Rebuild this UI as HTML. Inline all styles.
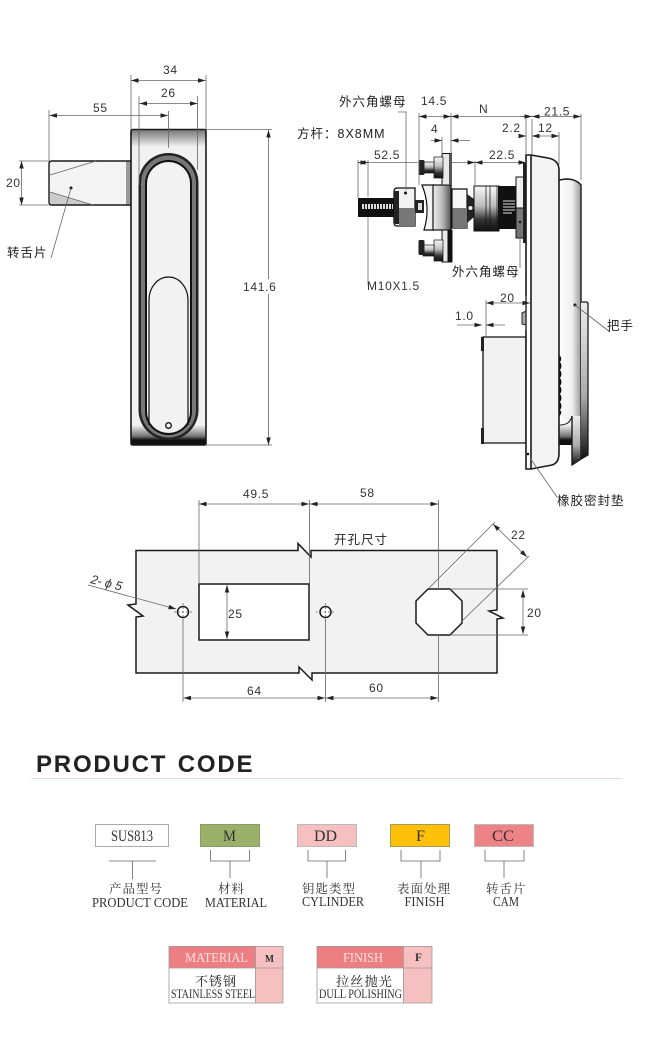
<!DOCTYPE html>
<html><head><meta charset="utf-8"><style>
html,body{margin:0;padding:0;background:#fff;width:650px;height:1060px;overflow:hidden}
svg{display:block}
.d{font-family:"Liberation Sans","Noto Sans CJK SC",sans-serif;font-size:12px;fill:#333;letter-spacing:.7px}
.c{font-family:"Liberation Sans","Noto Sans CJK SC",sans-serif;font-size:12.5px;fill:#222;letter-spacing:1px}
.l{stroke:#666;stroke-width:.8;fill:none}
.k{stroke:#1a1a1a;fill:none}
.s{font-family:"Liberation Serif","Noto Serif CJK SC",serif;fill:#333}
</style></head><body>
<svg width="650" height="1060" viewBox="0 0 650 1060" xmlns="http://www.w3.org/2000/svg">
<defs>
<marker id="a" viewBox="0 0 10 6" refX="10" refY="3" markerWidth="9" markerHeight="4.500" markerUnits="userSpaceOnUse" orient="auto-start-reverse"><path d="M0 0L10 3L0 6z" fill="#222"/></marker>
<linearGradient id="v" x1="0" y1="0" x2="0" y2="1"><stop offset="0" stop-color="#f8f8f8"/><stop offset=".45" stop-color="#bbb"/><stop offset=".75" stop-color="#333"/><stop offset="1" stop-color="#111"/></linearGradient>
<linearGradient id="hd" x1="0" y1="0" x2="1" y2="0"><stop offset="0" stop-color="#fff"/><stop offset=".6" stop-color="#eee"/><stop offset="1" stop-color="#999"/></linearGradient>
<linearGradient id="top" x1="0" y1="0" x2="0" y2="1"><stop offset="0" stop-color="#777"/><stop offset=".45" stop-color="#aaa"/><stop offset="1" stop-color="#f0f0f0"/></linearGradient>
<linearGradient id="bot" x1="0" y1="0" x2="0" y2="1"><stop offset="0" stop-color="#f2f2f2"/><stop offset=".55" stop-color="#777"/><stop offset=".75" stop-color="#111"/><stop offset="1" stop-color="#111"/></linearGradient>
<linearGradient id="low" x1="0" y1="0" x2="0" y2="1"><stop offset="0" stop-color="#eee"/><stop offset=".6" stop-color="#aaa"/><stop offset="1" stop-color="#111"/></linearGradient>
<linearGradient id="blk" x1="0" y1="0" x2="1" y2="0"><stop offset="0" stop-color="#eee"/><stop offset=".5" stop-color="#bbb"/><stop offset="1" stop-color="#555"/></linearGradient>
</defs>

<!-- LEFT VIEW -->
<path d="M49 161H128V205H52Q49 205 49 202Z" fill="#f3f3f3"/>
<path d="M50 192L93 205H52Q50 205 50 202Z" fill="#ccc"/>
<rect x="126" y="161" width="5" height="44" fill="#999"/>
<path d="M131 161H52Q49 161 49 164V202Q49 205 52 205H131" class="k" stroke-width="1.400"/>
<path d="M50 175L96 161M50 192L93 205" class="l"/>
<rect x="131" y="129.500" width="75" height="315.500" fill="#f1f1f1"/>
<rect x="131" y="129.500" width="75" height="17" fill="url(#top)"/>
<rect x="131" y="425" width="75" height="20" fill="url(#bot)"/>
<rect x="131" y="129.500" width="75" height="315.500" rx="1.500" class="k" stroke-width="1.600"/>
<rect x="138.500" y="153" width="60" height="287" rx="30" fill="#222"/>
<rect x="141" y="155.500" width="55" height="282" rx="27.500" fill="#777"/>
<rect x="145" y="160" width="47" height="275" rx="23.500" fill="#111"/>
<rect x="147" y="162" width="43" height="271" rx="21.500" fill="#f2f2f2"/>
<path d="M149 425V300A19.500 23 0 0 1 188 300V425" fill="none" stroke="#111" stroke-width="1.200"/>
<circle cx="168.500" cy="425.500" r="2.800" fill="#fff" stroke="#111" stroke-width="1.300"/>

<path class="l" d="M49 110V161M131 75V129M206 75V129M139 96V185M197.500 96V170M168.500 111V148M206 129.500H272M206 445H272M19 161H49M19 205H49"/>
<path class="l" marker-start="url(#a)" marker-end="url(#a)" d="M131 80.500H205.500"/>
<path class="l" marker-start="url(#a)" marker-end="url(#a)" d="M139.500 103.500H197.500"/>
<path class="l" marker-start="url(#a)" marker-end="url(#a)" d="M49.500 115.500H168"/>
<path class="l" marker-start="url(#a)" marker-end="url(#a)" d="M21.500 161V205"/>
<path class="l" marker-start="url(#a)" marker-end="url(#a)" d="M268.500 130V445"/>
<rect x="242" y="279" width="36" height="15" fill="#fff"/>
<text class="d" x="243" y="291">141.6</text>
<text class="d" x="163" y="74">34</text><text class="d" x="161" y="97">26</text><text class="d" x="93" y="112">55</text><text class="d" x="6" y="187">20</text>
<text class="c" x="7" y="257">转舌片</text>
<circle cx="71" cy="188" r="1.500" fill="#111"/><path class="l" d="M71 188L51 258"/>

<!-- RIGHT VIEW -->
<rect x="358" y="198" width="36" height="19" fill="#111"/>
<path d="M362 206.500H393" stroke="#ddd" stroke-width="5" stroke-dasharray="2 1"/>
<path d="M394 192Q394 188 397 188H415V226H397Q394 226 394 222Z" fill="#f2f2f2" stroke="#111" stroke-width="1.300"/>
<path d="M399 208H415V226H399Z" fill="#777"/><path d="M394 191H399V224H394Z" fill="#222"/>
<circle cx="405.500" cy="193" r="1.500" fill="#111"/>
<rect x="415" y="200" width="9" height="13" fill="#222"/><rect x="418" y="203" width="4" height="7" fill="#ddd"/>
<path d="M422 185H434V230H424Q431 207 422 185Z" fill="#f2f2f2" stroke="#111" stroke-width="1.200"/>
<rect x="433" y="185" width="18" height="45" fill="url(#blk)" stroke="#111" stroke-width="1.200"/>
<path d="M442 153.500H451.500V185H442Z" fill="#e8e8e8" stroke="#111" stroke-width="1"/>
<rect x="449" y="154" width="3" height="31" fill="#555"/>
<path d="M442 230H451.500V262H442Z" fill="#e8e8e8" stroke="#111" stroke-width="1"/>
<rect x="447.500" y="230" width="5" height="32" fill="#111"/>
<rect x="434" y="157" width="9" height="21" fill="url(#v)" stroke="#111" stroke-width=".7"/>
<rect x="423" y="162" width="11" height="11" fill="url(#v)" stroke="#111" stroke-width=".7"/>
<rect x="418.500" y="160" width="6" height="15" rx="1.500" fill="#222"/>
<rect x="434" y="240" width="9" height="21" fill="url(#v)" stroke="#111" stroke-width=".7"/>
<rect x="423" y="245" width="11" height="11" fill="url(#v)" stroke="#111" stroke-width=".7"/>
<rect x="418.500" y="240" width="6" height="15" rx="1.500" fill="#222"/>
<path d="M452 189H467V228H452Z" fill="#f6f6f6" stroke="#111" stroke-width="1.200"/>
<rect x="452.500" y="208" width="14.500" height="20" fill="#777"/>
<path d="M467 194L474 199V217L467 223Z" fill="#222"/><circle cx="470.500" cy="208" r="2" fill="#eee"/>
<rect x="474" y="186" width="25" height="45" fill="url(#v)" stroke="#111" stroke-width="1"/>
<path d="M486 186V231M490 186V231M497 186V231" stroke="#111" stroke-width=".7"/>
<rect x="498" y="186" width="18" height="43" fill="#111"/>
<path d="M503 201H515M503 204H515M503 207H515M503 210H515M503 213H512" stroke="#ddd" stroke-width="1"/>
<rect x="516" y="177" width="10" height="61" fill="#eee" stroke="#111" stroke-width="1"/>
<rect x="516" y="208" width="10" height="30" fill="#777" stroke="#111" stroke-width="1"/>
<circle cx="520" cy="222" r="1.300" fill="#111"/>
<rect x="523" y="163" width="3" height="80" fill="#222"/>

<path d="M483 337H526V443H483Z" fill="#f2f2f2" stroke="#111" stroke-width="1.300"/>
<rect x="481" y="337" width="3" height="14" fill="#222"/><rect x="481" y="428" width="3" height="16" fill="#222"/>
<path d="M522 313L526 311V325L522 324Z" fill="#aaa" stroke="#222"/>
<path d="M581 185Q576 179 566 179L559 180V435H572V465L581 458Z" fill="url(#hd)"/>
<path d="M559 425H572V445H559Z" fill="url(#bot)"/>
<path d="M572 416V465L581 459V416Z" fill="url(#low)"/>
<path d="M559 180L566 179Q576 179 581 185V459L572 465V416" class="k" stroke-width="1.400"/>
<path d="M572 416Q570 425 560 425" class="k" stroke-width="1"/>
<path d="M581 302H586Q588 302 588 304V455L581 459Z" fill="url(#low)"/>
<path d="M581 302H586Q588 302 588 304V455L581 459" fill="none" stroke="#1a1a1a" stroke-width="1.300"/>
<path d="M559 355Q563 358 560 362Q563 366 560 370Q563 374 560 378Q563 382 560 386Q563 390 560 394Q563 398 560 402Q563 406 560 410Q563 413 559 416Z" fill="#111"/>
<path d="M531 154H526V469H531L552 465Q559 463 559 453V170Q559 160 548 158Z" fill="#f3f3f3"/>
<rect x="526" y="155" width="5" height="314" fill="#fff"/>
<path d="M526 155H531L548 158Q559 160 559 170V453Q559 463 552 465L531 469H526Z" class="k" stroke-width="1.600"/>
<path d="M531 155V469" class="k" stroke-width="1.600"/>

<path class="l" d="M358 160V198M368 160V197M419 113V185M451 113V154M442 137V154M526 119V155M532 119V155M559 132V165M581 114V180M475 161V186M398 112H406V190"/>
<path class="l" d="M368 217V285M520 222V268"/>
<path class="l" marker-start="url(#a)" marker-end="url(#a)" d="M419 116.500H451"/>
<path class="l" marker-start="url(#a)" d="M451 116.500H526"/>
<path class="l" marker-end="url(#a)" d="M520 116.500H532"/>
<path class="l" marker-start="url(#a)" marker-end="url(#a)" d="M532 116.500H581"/>
<path class="l" marker-end="url(#a)" d="M431 140.500H442"/>
<path class="l" marker-start="url(#a)" d="M451 140.500H470"/>
<path class="l" marker-end="url(#a)" d="M519 136H526"/>
<path class="l" marker-start="url(#a)" marker-end="url(#a)" d="M532 136H559"/>
<path class="l" marker-start="url(#a)" d="M358 162.500H418"/>
<path class="l" marker-end="url(#a)" d="M360 162.500H368"/>
<path class="l" marker-start="url(#a)" d="M475 162.500H526"/>
<path class="l" marker-end="url(#a)" d="M467 162.500H475"/>
<path class="l" marker-end="url(#a)" d="M518 162.500H526"/>
<path class="l" d="M450 162.500H467"/>
<text class="c" x="339" y="106">外六角螺母</text>
<text class="d" x="421" y="105">14.5</text><text class="d" x="479" y="113">N</text><text class="d" x="544" y="115.500">21.5</text>
<text class="c" x="297" y="138">方杆：8X8MM</text>
<text class="d" x="431" y="133">4</text><text class="d" x="502" y="132">2.2</text><text class="d" x="538" y="132">12</text>
<text class="d" x="374" y="159">52.5</text><text class="d" x="489" y="159">22.5</text>
<text class="c" x="452" y="276">外六角螺母</text>
<text class="d" x="367" y="290">M10X1.5</text>

<path class="l" d="M486 300V337M526 296V330"/>
<path class="l" marker-start="url(#a)" marker-end="url(#a)" d="M486 303H530"/>
<path class="l" marker-end="url(#a)" d="M457 325H482"/>
<path class="l" marker-start="url(#a)" d="M486 325H505"/>
<text class="d" x="500" y="302">20</text><text class="d" x="455" y="320">1.0</text>
<circle cx="575" cy="305" r="1.500" fill="#111"/><path class="l" d="M575 305L610 332"/>
<text class="c" x="607" y="330">把手</text>
<circle cx="528" cy="454" r="1.300" fill="#111"/><path class="l" d="M530 458L557 497"/>
<text class="c" x="557" y="505">橡胶密封垫</text>

<!-- CUTOUT -->
<path d="M136 550.500H298V543.500L311 557V550.500H497V610L489 611L503 618L497 619V673H312V680L299 667V673H136V617L143 616L128 605L136 604Z" fill="#f2f2f2" stroke="#1a1a1a" stroke-width="1.500"/>
<rect x="199" y="584" width="110" height="56" fill="#fff" stroke="#1a1a1a" stroke-width="1.500"/>
<path d="M428 589H450L462 601V623L450 635H428L416 623V601Z" fill="#fff" stroke="#1a1a1a" stroke-width="1.500" stroke-linejoin="round"/>
<circle cx="183" cy="612" r="5.500" fill="#fff" stroke="#1a1a1a" stroke-width="1.500"/>
<circle cx="325.500" cy="612" r="5.500" fill="#fff" stroke="#1a1a1a" stroke-width="1.500"/>
<path class="l" stroke-dasharray="2 2" d="M174 612H192M183 603V621M316 612H335M325.500 603V621"/>
<path class="l" d="M199 500V584M309.500 500V584M438.500 500V589M438.500 635V702M183 620V702M325.500 620V702M450 589H528M450 635H528M428 589L495 522M461 622L529 556"/>
<path class="l" marker-start="url(#a)" marker-end="url(#a)" d="M199 504H309"/>
<path class="l" marker-start="url(#a)" marker-end="url(#a)" d="M310 504H438"/>
<path class="l" marker-start="url(#a)" marker-end="url(#a)" d="M493 524L527 557"/>
<path class="l" marker-start="url(#a)" marker-end="url(#a)" d="M523 590V634"/>
<path class="l" marker-start="url(#a)" marker-end="url(#a)" d="M227 585V639"/>
<path class="l" marker-start="url(#a)" marker-end="url(#a)" d="M183.500 698H325"/>
<path class="l" marker-start="url(#a)" marker-end="url(#a)" d="M326 698H438"/>
<path class="l" marker-end="url(#a)" d="M88 585L176 609"/>
<text class="d" x="243" y="498">49.5</text><text class="d" x="360" y="497">58</text><text class="c" x="334" y="544">开孔尺寸</text>
<text class="d" x="511" y="539">22</text><text class="d" x="527" y="617">20</text><text class="d" x="228" y="618">25</text><text class="d" x="247" y="695">64</text><text class="d" x="369" y="692">60</text>
<text x="90" y="583" transform="rotate(14 90 583)" font-family="Liberation Sans,sans-serif" font-size="12.500" font-style="italic" fill="#333">2- ϕ 5</text>

<!-- PRODUCT CODE -->
<text x="36" y="772" font-family="Liberation Sans,sans-serif" font-size="24" font-weight="700" fill="#222" letter-spacing="1.800" word-spacing="2">PRODUCT CODE</text>
<rect x="31" y="778" width="591" height="1" fill="#eed5da"/>

<rect x="95.500" y="824.500" width="73" height="22" fill="#fff" stroke="#aaa"/>
<rect x="200.500" y="824.500" width="59" height="22" fill="#9bb069" stroke="#8b9b66"/>
<rect x="297.500" y="824.500" width="59" height="22" fill="#f7c0c0" stroke="#bbb"/>
<rect x="390.500" y="824.500" width="59" height="22" fill="#fdc10a" stroke="#a89a55"/>
<rect x="474.500" y="824.500" width="59" height="22" fill="#ee8387" stroke="#bbb"/>
<g class="s" font-size="16">
<text x="111" y="841" textLength="42" lengthAdjust="spacingAndGlyphs">SUS813</text>
<text x="223" y="841" textLength="13" lengthAdjust="spacingAndGlyphs">M</text>
<text x="314" y="841" textLength="23" lengthAdjust="spacingAndGlyphs">DD</text>
<text x="416" y="841" textLength="9" lengthAdjust="spacingAndGlyphs">F</text>
<text x="492" y="841" textLength="22" lengthAdjust="spacingAndGlyphs">CC</text>
</g>
<path class="l" d="M109 861H156M132.500 861V879M210.500 850V861H249.500V850M230 861V878M308 850V861H345.500V850M327 861V878M401 850V861H440V850M421 861V878M485 850V861H524V850M504 861V878"/>
<g class="s" font-size="12.500" letter-spacing="1">
<text x="109" y="893">产品型号</text><text x="218" y="893">材料</text><text x="302" y="893">钥匙类型</text><text x="397" y="893">表面处理</text><text x="486" y="893">转舌片</text></g>
<g class="s" font-size="14">
<text x="92" y="907" textLength="96" lengthAdjust="spacingAndGlyphs">PRODUCT CODE</text>
<text x="205" y="907" textLength="62" lengthAdjust="spacingAndGlyphs">MATERIAL</text>
<text x="302" y="906" textLength="62" lengthAdjust="spacingAndGlyphs">CYLINDER</text>
<text x="404.500" y="906" textLength="40" lengthAdjust="spacingAndGlyphs">FINISH</text>
<text x="493" y="906" textLength="26" lengthAdjust="spacingAndGlyphs">CAM</text></g>

<!-- TABLES -->
<rect x="169" y="946" width="86" height="22" fill="#ed7f83"/><rect x="255" y="946" width="28" height="22" fill="#f7c0c0"/><rect x="255" y="968" width="28" height="35" fill="#f7c0c0"/>
<path d="M169 946.500H283V1003H169ZM169 968H283M255.500 946V1003" fill="none" stroke="#999" stroke-width=".8"/>
<rect x="317" y="946" width="86" height="22" fill="#ed7f83"/><rect x="403" y="946" width="29" height="22" fill="#f7c0c0"/><rect x="403" y="968" width="29" height="35" fill="#f7c0c0"/>
<path d="M317 946.500H432V1003H317ZM317 968H432M403.500 946V1003" fill="none" stroke="#999" stroke-width=".8"/>
<g class="s">
<text x="185" y="962" font-size="14" textLength="63" lengthAdjust="spacingAndGlyphs" style="fill:#fbe3e3">MATERIAL</text>
<text x="265" y="962" font-size="11" textLength="9" lengthAdjust="spacingAndGlyphs" style="fill:#333;font-weight:700">M</text>
<text x="343" y="962" font-size="14" textLength="40" lengthAdjust="spacingAndGlyphs" style="fill:#fbe3e3">FINISH</text>
<text x="415" y="961" font-size="12" textLength="7" lengthAdjust="spacingAndGlyphs" style="fill:#333;font-weight:700">F</text>
<text x="195" y="986" font-size="13" style="fill:#222" letter-spacing="1">不锈钢</text>
<text x="336" y="986" font-size="13" style="fill:#222" letter-spacing="1.300">拉丝抛光</text>
<text x="171" y="998" font-size="13" textLength="84" lengthAdjust="spacingAndGlyphs">STAINLESS STEEL</text>
<text x="319" y="998" font-size="13" textLength="83" lengthAdjust="spacingAndGlyphs">DULL POLISHING</text>
</g>
</svg>
</body></html>
